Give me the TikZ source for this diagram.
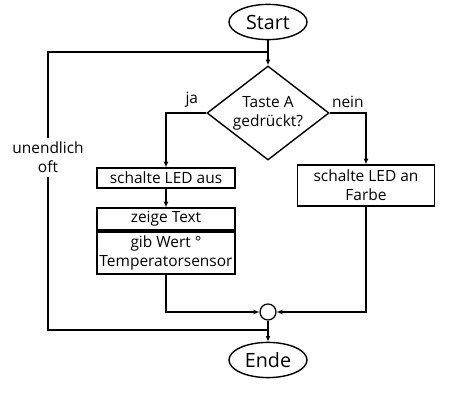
\documentclass[tikz,border=0pt]{standalone}
\usepackage{fontspec}
\setmainfont{Open Sans}
\usetikzlibrary{shapes.geometric,arrows.meta}

\tikzset{
  term/.style={ellipse,draw,line width=1pt,minimum width=1.95cm,minimum height=0.88cm,inner sep=0pt,font=\fontsize{14}{16}\selectfont},
  decide/.style={diamond,draw,line width=1pt,aspect=1.3,inner sep=0pt,minimum width=3.05cm,minimum height=2.35cm,align=center},
  task/.style={rectangle,draw,line width=0.9pt,minimum width=3.45cm,inner sep=0pt,align=center},
  joint/.style={circle,draw,line width=0.9pt,minimum size=0.4cm,inner sep=0pt},
  flow/.style={->,line width=0.9pt}
}

\begin{document}
\begin{tikzpicture}[x=0.025cm,y=-0.025cm,>={Latex[length=4pt,width=3.5pt]},font=\fontsize{11}{13.5}\selectfont]
\useasboundingbox (0,0) rectangle (474,401);

\node[term] (start) at (268,22) {Start};
\node[decide] (taste) at (268,113) {Taste A\\gedrückt?};
\node[task,minimum height=0.5cm] (aus) at (166,178) {schalte LED aus};
\node[task,minimum height=0.55cm] (text) at (166,219) {zeige Text};
\node[task,minimum height=1.05cm] (wert) at (166,253) {gib Wert °\\Temperatorsensor};
\node[task,minimum width=3.425cm,minimum height=1.025cm] (an) at (366,185.5) {schalte LED an\\Farbe};
\node[joint] (join) at (268,312) {};
\node[term] (ende) at (268,360) {Ende};

\coordinate (back) at (268,330);
\coordinate (backl) at (48,330);
\coordinate (topl) at (48,52);
\coordinate (top) at (268,52);

\draw[flow] (start) -- (taste);
\draw[flow] (taste.west) -| node[pos=0.18,above=0pt] {ja} (aus);
\draw[flow] (taste.east) -| node[pos=0.25,above=0pt] {nein} (an);
\draw[flow] (aus) -- (text);
\draw[flow] (wert) |- (join);
\draw[flow] (an) |- (join);
\draw[flow] (join) -- (ende);

\draw[line width=0.9pt] (back) -- (backl) -- node[pos=0.62,fill=white,align=center,inner xsep=0pt,inner ysep=3pt] {unendlich\\oft} (topl) -- (top);
\end{tikzpicture}
\end{document}
